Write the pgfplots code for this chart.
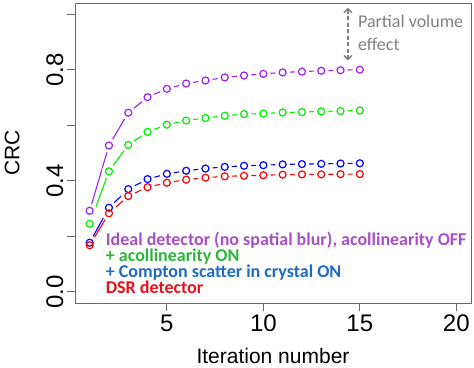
\documentclass[border=0pt]{standalone}
\usepackage{pgfplots}
\pgfplotsset{compat=1.18}
\usepackage{pgfplotstable}
\usepackage{fontspec}
\setmainfont{Liberation Sans}
\newfontfamily\calibri{Carlito}
\usetikzlibrary{arrows.meta}
\definecolor{rpurple}{HTML}{A020F0}
\definecolor{rgreen}{HTML}{00EE00}
\definecolor{rblue}{HTML}{0000FF}
\definecolor{rred}{HTML}{FF0000}
\definecolor{tpurple}{HTML}{A64FC6}
\definecolor{tgreen}{HTML}{2DB43C}
\definecolor{tblue}{HTML}{1F6BC2}
\definecolor{tred}{HTML}{E6101C}
\definecolor{framegray}{HTML}{6A6A6A}
\pgfplotstableread{
x p g b r
1 0.292 0.245 0.177 0.168
2 0.527 0.434 0.303 0.283
3 0.645 0.529 0.370 0.345
4 0.701 0.576 0.406 0.377
5 0.731 0.602 0.425 0.393
6 0.750 0.617 0.436 0.404
7 0.761 0.626 0.444 0.411
8 0.772 0.634 0.450 0.416
9 0.779 0.640 0.454 0.418
10 0.785 0.642 0.456 0.420
11 0.790 0.646 0.459 0.422
12 0.793 0.647 0.460 0.423
13 0.796 0.650 0.461 0.423
14 0.798 0.651 0.462 0.424
15 0.800 0.653 0.463 0.424
}\data
\begin{document}
\begin{tikzpicture}
\useasboundingbox (-75bp,-65bp) rectangle (399bp,303bp);
\begin{axis}[
  at={(0,0)}, anchor=south west,
  width=396bp, height=300bp, scale only axis,
  xmin=0.24, xmax=20.76, ymin=-0.04, ymax=1.04,
  axis line style={draw=framegray, line width=0.9bp},
  xtick={5,10,15,20},
  ytick={0,0.2,0.4,0.6,0.8,1.0},
  yticklabels={0.0,,0.4,,0.8,},
  tick align=outside, major tick length=8bp,
  xtick pos=bottom, ytick pos=left,
  tick style={framegray, line width=0.9bp},
  ticklabel style={font=\fontsize{24bp}{28bp}\selectfont},
  /pgf/number format/assume math mode=true,
  yticklabel style={rotate=90, anchor=south},
  xlabel={Iteration number}, ylabel={CRC},
  label style={font=\fontsize{21bp}{25bp}\selectfont},
  xlabel style={at={(axis description cs:0.5,-0.176)}, anchor=center},
  ylabel style={at={(axis description cs:-0.159,0.5)}, anchor=center},
  clip=false,
]
% lines with white halos (gaps around points, as in R type="b")
\addplot[rpurple, line width=1.1bp, mark=none] table[x=x,y=p]{\data};
\addplot[only marks, mark=*, mark size=7bp, color=white] table[x=x,y=p]{\data};
\addplot[rgreen, line width=1.1bp, mark=none] table[x=x,y=g]{\data};
\addplot[only marks, mark=*, mark size=7bp, color=white] table[x=x,y=g]{\data};
\addplot[rblue, line width=1.1bp, mark=none] table[x=x,y=b]{\data};
\addplot[only marks, mark=*, mark size=7bp, color=white] table[x=x,y=b]{\data};
\addplot[rred, line width=1.1bp, mark=none] table[x=x,y=r]{\data};
\addplot[only marks, mark=*, mark size=7bp, color=white] table[x=x,y=r]{\data};
% circles
\addplot[only marks, mark=o, mark size=3.5bp, rpurple, mark options={line width=1.2bp}] table[x=x,y=p]{\data};
\addplot[only marks, mark=o, mark size=3.5bp, rgreen, mark options={line width=1.2bp}] table[x=x,y=g]{\data};
\addplot[only marks, mark=o, mark size=3.5bp, rblue, mark options={line width=1.2bp}] table[x=x,y=b]{\data};
\addplot[only marks, mark=o, mark size=3.5bp, rred, mark options={line width=1.2bp}] table[x=x,y=r]{\data};
% legend text (one block)
\node[anchor=west, inner sep=0pt, align=left, font=\calibri\bfseries\fontsize{18bp}{16.2bp}\selectfont] at (axis cs:1.83,0.104)
  {\textcolor{tpurple}{Ideal detector (no spatial blur), acollinearity OFF}\\
   \textcolor{tgreen}{+ acollinearity ON}\\
   \textcolor{tblue}{+ Compton scatter in crystal ON}\\
   \textcolor{tred}{DSR detector}};
% partial volume annotation
\draw[draw=gray, line width=1.5bp, dash pattern=on 4bp off 2.5bp, {Straight Barb[length=4bp,width=8bp]}-{Straight Barb[length=4bp,width=8bp]}] (axis cs:14.38,1.023) -- (axis cs:14.38,0.833);
\node[anchor=west, inner sep=0pt, align=left, text=gray, font=\calibri\fontsize{18bp}{23bp}\selectfont] at (axis cs:14.9,0.931) {Partial volume\\effect};
\end{axis}
\end{tikzpicture}
\end{document}
